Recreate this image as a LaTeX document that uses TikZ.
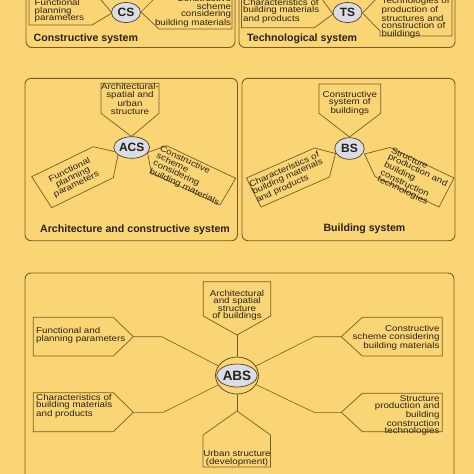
\documentclass[tikz,border=0pt]{standalone}
\usepackage{fontspec}
\setmainfont{Liberation Sans}
\newfontfamily\bx[FakeStretch=1.15]{Liberation Sans}
\usetikzlibrary{shapes.geometric}
\definecolor{bgc}{RGB}{250,213,118}
\definecolor{lnc}{RGB}{120,92,34}
\definecolor{txc}{RGB}{40,34,22}
\definecolor{elc}{RGB}{218,220,230}
\tikzset{
 panel/.style={draw=lnc, line width=0.9pt, rounded corners=6pt},
 sbox/.style={draw=lnc, line width=0.7pt, line join=miter},
 conn/.style={draw=lnc, line width=0.6pt},
 bt/.style={font=\bx\fontsize{8.5}{#1}\selectfont, text=txc, inner sep=0pt},
 bt/.default=7.5,
 ttl/.style={font=\bfseries\fontsize{10.6}{12}\selectfont, text=txc, inner sep=0pt, anchor=base west},
 hub/.style={ellipse, draw=lnc!70!black, line width=0.7pt, fill=elc, inner sep=0pt, minimum width=29pt, minimum height=20pt, font=\bfseries\fontsize{12}{12}\selectfont, text=txc},
}
\begin{document}
\begin{tikzpicture}[x=1pt,y=-1pt]
\useasboundingbox (0,0) rectangle (474,474);
\clip (0,0) rectangle (474,474);
\fill[bgc] (0,0) rectangle (474,474);

% ---------- top-left panel: Constructive system
\draw[panel] (26,-20) rectangle (235,47.5);
\draw[sbox] (101,-15) -- (101,0) -- (112,13) -- (92,25) -- (29,25) -- (29,-15);
\draw[sbox] (158,-15) -- (158,-5) -- (141,12) -- (159,29) -- (232,29) -- (232,-15);
\node[hub] (cs) at (126,12.5) {CS};
\node[bt, anchor=north west, align=left] (csl) at (34.5,-0.7) {Functional\\planning\\parameters};
\node[bt, anchor=north east, align=right] (csr) at (231.3,-4.5) {Constructive\\scheme\\considering\\building materials};
\node[ttl] (cst) at (33.5,41.5) {Constructive system};

% ---------- top-right panel: Technological system
\draw[panel] (239,-20) rectangle (455,47.5);
\draw[sbox] (321,-15) -- (323,0.5) -- (333,14) -- (314.5,27.7) -- (241.5,27.7) -- (241.5,-15);
\draw[sbox] (380,-15) -- (380,-5) -- (362.5,13) -- (380,31) -- (380,36) -- (452,36) -- (452,-15);
\node[hub] (ts) at (347.5,12.5) {TS};
\node[bt, anchor=north west, align=left] (tsl) at (243,-1.2) {Characteristics of\\building materials\\and products};
\node[bt, anchor=north west, align=left] (tsr) at (381.5,-3.0) {Technologies of\\production of\\structures and\\construction of\\buildings};
\node[ttl] (tst) at (247,41.7) {Technological system};

% ---------- middle-left panel: ACS
\draw[panel] (25,78.3) rectangle (237.5,240.7);
\draw[sbox] (101,83.3) -- (159,83.3) -- (159,113.3) -- (131.5,136.5) -- (101,113.3) -- cycle;
\draw[sbox] (31.7,176.7) -- (93.3,146.7) -- (118.5,152.5) -- (113.3,177.7) -- (51.7,207.7) -- cycle;
\draw[sbox] (147.5,152.5) -- (166.7,145.7) -- (235.7,178.3) -- (220,205) -- (151.5,173) -- cycle;
\node[hub, minimum width=30pt, minimum height=21.6pt] (acs) at (131.7,147.5) {ACS};
\node[bt=7.8, anchor=north, align=center] (acst) at (130,83.6) {Architectural-\\spatial and\\urban\\structure};
\node[bt=7.8, align=center, rotate=26] (acsl) at (73,177.5) {Functional\\planning\\parameters};
\node[bt=7.8, align=left, rotate=-25] (acsr) at (189.5,176) {Constructive\\scheme\\considering\\building materials};
\node[ttl] (acsti) at (40,232.5) {Architecture and constructive system};

% ---------- middle-right panel: BS
\draw[panel] (242,78.3) rectangle (455,240.7);
\draw[sbox] (319,84) -- (380.7,84) -- (380.7,113.3) -- (349.5,137) -- (319,113.3) -- cycle;
\draw[sbox] (246.5,178) -- (314.5,148) -- (335.5,153.5) -- (329.5,177) -- (261,207) -- cycle;
\draw[sbox] (364.5,154) -- (390,147.5) -- (454,178) -- (439,207) -- (375,176.5) -- cycle;
\node[hub, minimum width=29.5pt, minimum height=21.6pt] (bs) at (349.5,148.5) {BS};
\node[bt=7.6, anchor=north, align=center] (bst) at (349.8,90.8) {Constructive\\system of\\buildings};
\node[bt=7.6, align=left, rotate=24] (bsl) at (288,177.5) {Characteristics of\\building materials\\and products};
\node[bt=7.0, align=left, rotate=-25.5] (bsr) at (413.8,178.6) {Structure\\production and\\building\\construction\\technologies};
\node[ttl] (bsti) at (323.3,231.7) {Building system};

% ---------- bottom panel: ABS
\draw[panel] (25,273) rectangle (454,495);
\node[ellipse, draw=lnc!70!black, line width=0.7pt, fill=bgc, minimum width=43pt, minimum height=37pt, inner sep=0pt] (absout) at (237,375.5) {};
\node[hub, minimum width=34pt, minimum height=23pt, font=\bfseries\fontsize{13.5}{13.5}\selectfont] (abs) at (237,375.5) {ABS};

% top box
\draw[sbox] (203.3,281.7) -- (270.7,281.7) -- (270.7,316) -- (237,335) -- (203.3,316) -- cycle;
\coordinate (tA) at (237,335);
\node[bt=7.3, anchor=north, align=center] (abst) at (237,290.3) {Architectural\\and spatial\\structure\\of buildings};
\draw[conn] (tA) -- (absout);
% bottom box
\draw[sbox] (237,411) -- (270.5,435) -- (270.5,467) -- (203,467) -- (203,435) -- cycle;
\coordinate (bA) at (237,411);
\node[bt=7.5, anchor=north, align=center] (absb) at (237,450.3) {Urban structure\\(development)};
\draw[conn] (absout) -- (bA);
% left upper
\draw[sbox] (33.3,317.3) -- (113.3,317.3) -- (133.3,336.7) -- (113.3,356) -- (33.3,356) -- cycle;
\coordinate (luA) at (133.3,336.7);
\coordinate (luB) at (161.7,336.7);
\node[bt=8, anchor=north west, align=left] (abslu) at (36,326.8) {Functional and\\planning parameters};
\draw[conn] (luA) -- (luB) -- (absout);
% left lower
\draw[sbox] (33.3,392.7) -- (113.3,392.7) -- (133.3,412.3) -- (113.3,431.7) -- (33.3,431.7) -- cycle;
\coordinate (llA) at (133.3,412.3);
\coordinate (llB) at (163.3,412.3);
\node[bt=7.5, anchor=north west, align=left] (absll) at (36,393.8) {Characteristics of\\building materials\\and products};
\draw[conn] (llA) -- (llB) -- (absout);
% right upper
\draw[sbox] (442.3,317.3) -- (362.3,317.3) -- (341.3,336.7) -- (362.3,356) -- (442.3,356) -- cycle;
\coordinate (ruA) at (341.3,336.7);
\coordinate (ruB) at (314,336.7);
\node[bt=7.5, anchor=north east, align=right] (absru) at (439.7,325.3) {Constructive\\scheme considering\\building materials};
\draw[conn] (ruA) -- (ruB) -- (absout);
% right lower
\draw[sbox] (442.3,393.3) -- (362.3,393.3) -- (341.3,412.3) -- (362.3,431.7) -- (442.3,431.7) -- cycle;
\coordinate (rlA) at (341.3,412.3);
\coordinate (rlB) at (314,412.3);
\node[bt=7.2, anchor=north east, align=right] (absrl) at (439.7,395.1) {Structure\\production and\\building\\construction\\technologies};
\draw[conn] (rlA) -- (rlB) -- (absout);
\end{tikzpicture}
\end{document}
